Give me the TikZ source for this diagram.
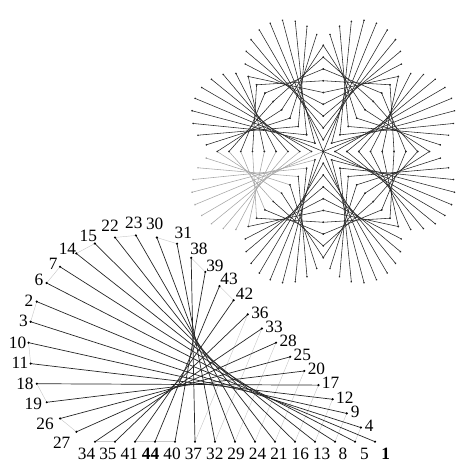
\documentclass[tikz,border=0pt]{standalone}
\usepackage{fontspec}
\setmainfont{Liberation Serif}

\tikzset{
  frontline/.style={black!85, line width=0.5pt},
  backline/.style={black!22, line width=0.3pt},
  rosecol/.style={black!85, line width=0.4pt},
  numlbl/.style={inner sep=0pt, font=\fontsize{12.3}{14}\selectfont},
}

% points of one pattern: #1 steps on each edge, #2 steps on the arc
\newcommand{\makepts}[2]{
  \pgfmathsetmacro{\stp}{14/#1}
  \pgfmathtruncatemacro{\aend}{#2-1}
  \foreach \ki in {0,...,#1}{
    \coordinate (s\ki) at ({-\ki*\stp},0);
  }
  \foreach \ji in {1,...,\aend}{
    \pgfmathtruncatemacro{\si}{#1+\ji}
    \pgfmathsetmacro{\ang}{247.66-\ji*180.32/#2}
    \coordinate (s\si) at ({-11.964+5.3576*cos(\ang)},{4.9557+5.3576*sin(\ang)});
  }
  \foreach \ti in {1,...,#1}{
    \pgfmathtruncatemacro{\si}{2*#1+#2-\ti}
    \coordinate (s\si) at ({-\ti*\stp*0.707107},{\ti*\stp*0.707107});
  }
}

\begin{document}
\begin{tikzpicture}[x=0.5cm,y=0.5cm]
  \useasboundingbox (0,0) rectangle (23.55,-23.5);

  % rosette of eight patterns
  \foreach \ri in {1,0,2,3,4,5,6,7}{
    \begin{scope}[shift={(16.165,-7.575)}, rotate=45*\ri, scale=0.379]
      \ifnum\ri=1 \tikzset{rosecol/.style={black!35, line width=0.4pt}}\fi
      \makepts{9}{10}
      \foreach \si in {0,...,13}{
        \pgfmathtruncatemacro{\sj}{\si+14}
        \draw[rosecol] (s\si) -- (s\sj);
      }
      \foreach \si in {0,...,27}{
        \fill[rosecol] (s\si) circle (0.12);
      }
    \end{scope}
  }

  % numbered pattern
  \begin{scope}[shift={(18.75,-22.085)}]
    \makepts{14}{16}
    \foreach \si/\nn in {0/1,1/5,2/8,3/13,4/16,5/21,6/24,7/29,8/32,9/37,
      10/40,11/44,12/41,13/35,14/34,15/27,16/26,17/19,18/18,19/11,20/10,
      21/3,22/2,23/6,24/7,25/14,26/15,27/22,28/23,29/30,30/31,31/38,32/39,
      33/43,34/42,35/36,36/33,37/28,38/25,39/20,40/17,41/12,42/9,43/4}{
      \coordinate (n\nn) at (s\si);
    }
    % back of the board
    \foreach \na in {2,4,...,42}{
      \pgfmathtruncatemacro{\nb}{\na+1}
      \draw[backline] (n\na) -- (n\nb);
    }
    % front of the board
    \foreach \na in {1,3,...,43}{
      \pgfmathtruncatemacro{\nb}{\na+1}
      \draw[frontline] (n\na) -- (n\nb);
    }
    \foreach \si in {0,...,43}{
      \fill (s\si) circle (0.06);
    }
    \foreach \nn/\tx/\dx/\dy in {1/\textbf{1}/10.8/-12.5, 5/5/9.4/-12.5,
      8/8/8.0/-12.5, 13/13/6.7/-12.5, 16/16/5.3/-12.5, 21/21/3.9/-12.5,
      24/24/2.5/-12.5, 29/29/1.1/-12.5, 32/32/-0.2/-12.5, 37/37/-1.6/-12.5,
      40/40/-3.0/-12.5, 44/\textbf{44}/-4.4/-12.5, 41/41/-5.8/-12.5,
      35/35/-7.1/-12.5, 34/34/-8.5/-12.5,
      27/27/-14.7/-10.7, 26/26/-15.1/-5.5, 19/19/-13.4/-1.7,
      18/18/-11.8/-0.3, 11/11/-10.6/1.1, 10/10/-11/0, 3/3/-7.3/0.7,
      2/2/-7.7/0.6, 6/6/-7.6/3, 7/7/-6.7/2.7, 14/14/-8.8/4.4,
      15/15/-6.5/7.7, 22/22/-5/11.6, 23/23/-2.1/12.9, 30/30/-2.2/13.5,
      31/31/6.3/11.2, 38/38/7.8/8.9, 39/39/9.7/6.2, 43/43/9.6/7.1,
      42/42/11/7, 36/36/12.2/2, 33/33/12.2/2, 28/28/12.2/2, 25/25/12.2/2,
      20/20/12.2/2, 17/17/12.2/2, 12/12/12.2/2, 9/9/8.4/2, 4/4/8.4/2}{
      \node[numlbl, xshift=\dx*0.025cm, yshift=\dy*0.025cm] (l\nn) at (n\nn) {\tx};
    }
  \end{scope}
\end{tikzpicture}
\end{document}
